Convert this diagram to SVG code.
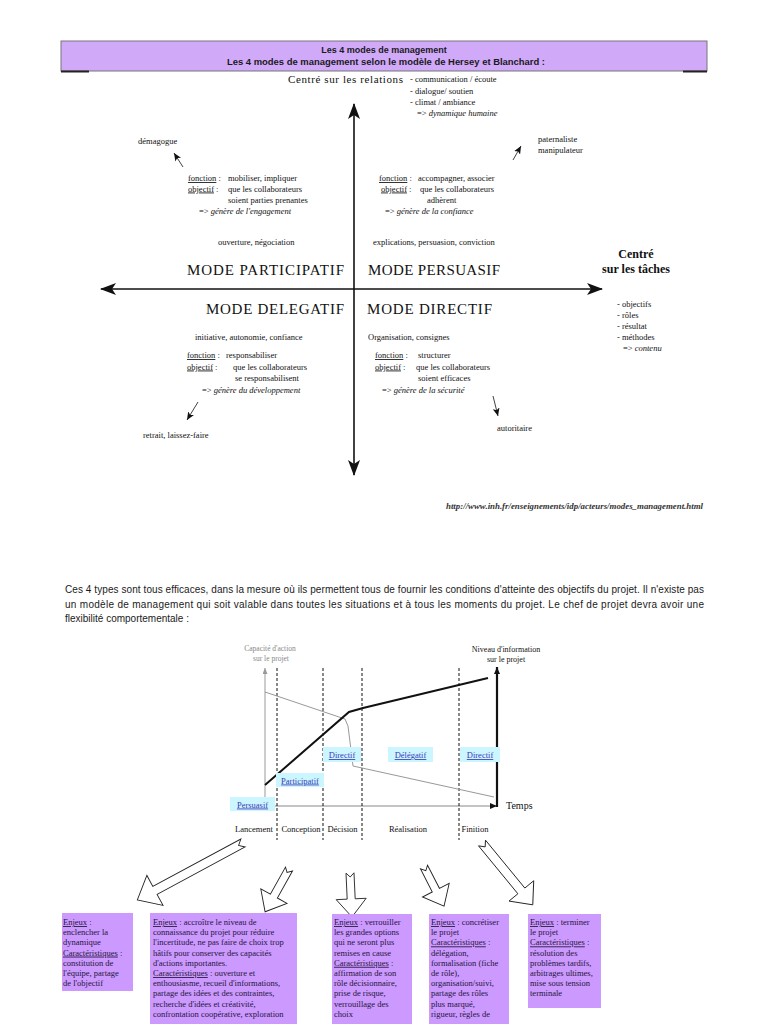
<svg xmlns="http://www.w3.org/2000/svg" width="768" height="1024" viewBox="0 0 768 1024">
<defs>
<style>
.sf{font-family:"Liberation Serif","Times New Roman",serif;fill:#111}
.q{font-size:8.5px}
.it{font-style:italic}
.ul{text-decoration:underline}
.mode{font-size:15px}
.bx{fill:#cc99ff}
.bt{font-family:"Liberation Serif","Times New Roman",serif;font-size:8.5px;fill:#24163a}
.lb{fill:#ccf6ff}
.lt{font-family:"Liberation Serif","Times New Roman",serif;font-size:8.5px;fill:#3a3ab8;text-decoration:underline;text-anchor:middle}
.ph{font-family:"Liberation Serif","Times New Roman",serif;font-size:8.5px;fill:#111}
.dash{stroke:#111;stroke-width:1;stroke-dasharray:3 2}
.hollow{fill:#fff;stroke:#222;stroke-width:0.9}
.para{font-family:"Liberation Sans",Arial,sans-serif;font-size:10px;fill:#1a1a1a}
</style>
<marker id="big" markerUnits="userSpaceOnUse" markerWidth="16" markerHeight="12" viewBox="0 0 16 12" refX="15" refY="6" orient="auto-start-reverse"><path d="M0,0 L16,6 L0,12 L4,6 Z" fill="#111"/></marker>
<marker id="sm" markerUnits="userSpaceOnUse" markerWidth="8" markerHeight="7" viewBox="0 0 8 7" refX="8" refY="3.5" orient="auto"><path d="M0,0 L8,3.5 L0,7 L2,3.5 Z" fill="#111"/></marker>
<marker id="tiny" markerUnits="userSpaceOnUse" markerWidth="7" markerHeight="6" viewBox="0 0 7 6" refX="7" refY="3" orient="auto"><path d="M0,0 L7,3 L0,6 Z" fill="#111"/></marker>
<marker id="tinyg" markerUnits="userSpaceOnUse" markerWidth="6" markerHeight="5" viewBox="0 0 6 5" refX="6" refY="2.5" orient="auto"><path d="M0,0 L6,2.5 L0,5 Z" fill="#999"/></marker>
</defs>
<rect width="768" height="1024" fill="#fff"/>

<g id="header">
<rect x="61" y="41" width="646" height="30" fill="#d0a9f9" stroke="#777" stroke-width="1"/>
<line x1="61" y1="71.5" x2="89" y2="71.5" stroke="#222" stroke-width="2"/>
<line x1="683" y1="71.5" x2="707" y2="71.5" stroke="#222" stroke-width="2"/>
<text x="384" y="52.5" text-anchor="middle" font-family="Liberation Sans, Arial, sans-serif" font-size="9" font-weight="bold" fill="#1a1a1a">Les 4 modes de management</text>
<text x="386" y="65" text-anchor="middle" font-family="Liberation Sans, Arial, sans-serif" font-size="9" font-weight="bold" fill="#1a1a1a" textLength="318" lengthAdjust="spacingAndGlyphs">Les 4 modes de management selon le modèle de Hersey et Blanchard :</text>
</g>

<g id="connectors">
<line x1="354" y1="104" x2="354" y2="475" stroke="#111" stroke-width="1.6" marker-start="url(#big)" marker-end="url(#big)"/>
<line x1="101" y1="289" x2="602" y2="289" stroke="#111" stroke-width="1.6" marker-start="url(#big)" marker-end="url(#big)"/>
<line x1="183" y1="167" x2="174" y2="153" stroke="#111" stroke-width="0.8" marker-end="url(#sm)"/>
<line x1="513" y1="160" x2="521" y2="146" stroke="#111" stroke-width="0.8" marker-end="url(#sm)"/>
<line x1="198" y1="402" x2="187" y2="420" stroke="#111" stroke-width="0.8" marker-end="url(#sm)"/>
<line x1="493" y1="396" x2="498" y2="416" stroke="#111" stroke-width="0.8" marker-end="url(#sm)"/>
</g>

<g id="axis-relations" class="sf">
<text x="288" y="83" font-size="11" textLength="115" lengthAdjust="spacing">Centré sur les relations</text>
<text x="410" y="82" class="q">- communication / écoute</text>
<text x="410" y="94" class="q">- dialogue/ soutien</text>
<text x="410" y="105" class="q">- climat / ambiance</text>
<text x="417" y="116" class="q">=&gt; <tspan class="it">dynamique humaine</tspan></text>
</g>

<g id="axis-taches" class="sf">
<text x="636" y="258" text-anchor="middle" font-size="12" font-weight="bold">Centré</text>
<text x="636" y="273" text-anchor="middle" font-size="12" font-weight="bold">sur les tâches</text>
<text x="617" y="307" class="q">- objectifs</text>
<text x="617" y="318" class="q">- rôles</text>
<text x="617" y="329" class="q">- résultat</text>
<text x="617" y="340" class="q">- méthodes</text>
<text x="623" y="351" class="q">=&gt; <tspan class="it">contenu</tspan></text>
</g>

<g id="mode-participatif" class="sf">
<text x="138" y="144" class="q">démagogue</text>
<text x="188" y="181" class="q"><tspan class="ul">fonction</tspan> : <tspan x="228">mobiliser, impliquer</tspan></text>
<text x="188" y="191.5" class="q"><tspan class="ul">objectif</tspan> : <tspan x="228">que les collaborateurs</tspan></text>
<text x="228" y="203" class="q">soient parties prenantes</text>
<text x="199" y="213.5" class="q">=&gt; <tspan class="it">génère de l'engagement</tspan></text>
<text x="218" y="245" class="q">ouverture, négociation</text>
<text x="187" y="275" class="mode" textLength="157" lengthAdjust="spacing">MODE  PARTICIPATIF</text>
</g>

<g id="mode-persuasif" class="sf">
<text x="538" y="142" class="q">paternaliste</text>
<text x="538" y="153" class="q">manipulateur</text>
<text x="379" y="181" class="q"><tspan class="ul">fonction</tspan> : <tspan x="418">accompagner, associer</tspan></text>
<text x="381" y="191.5" class="q"><tspan class="ul">objectif</tspan> : <tspan x="420">que les collaborateurs</tspan></text>
<text x="427" y="203" class="q">adhèrent</text>
<text x="385" y="213.5" class="q">=&gt; <tspan class="it">génère de la confiance</tspan></text>
<text x="373" y="245" class="q">explications, persuasion, conviction</text>
<text x="368" y="275" class="mode" textLength="132" lengthAdjust="spacing">MODE  PERSUASIF</text>
</g>

<g id="mode-delegatif" class="sf">
<text x="206" y="314" class="mode" textLength="138" lengthAdjust="spacing">MODE  DELEGATIF</text>
<text x="195" y="340" class="q">initiative, autonomie, confiance</text>
<text x="187" y="358" class="q"><tspan class="ul">fonction</tspan> : <tspan x="226">responsabiliser</tspan></text>
<text x="187" y="369.5" class="q"><tspan class="ul">objectif</tspan> : <tspan x="233">que les collaborateurs</tspan></text>
<text x="235" y="381" class="q">se responsabilisent</text>
<text x="202" y="392.5" class="q">=&gt; <tspan class="it">génère du développement</tspan></text>
<text x="143" y="438" class="q">retrait, laissez-faire</text>
</g>

<g id="mode-directif" class="sf">
<text x="367" y="314" class="mode" textLength="125" lengthAdjust="spacing">MODE  DIRECTIF</text>
<text x="368" y="340" class="q">Organisation, consignes</text>
<text x="375" y="358" class="q"><tspan class="ul">fonction</tspan> : <tspan x="418">structurer</tspan></text>
<text x="375" y="369.5" class="q"><tspan class="ul">objectif</tspan> : <tspan x="416">que les collaborateurs</tspan></text>
<text x="418" y="381" class="q">soient efficaces</text>
<text x="382" y="392.5" class="q">=&gt; <tspan class="it">génère de la sécurité</tspan></text>
<text x="497" y="431" class="q">autoritaire</text>
</g>

<g id="source">
<text x="703" y="509" text-anchor="end" font-family="Liberation Serif, serif" font-size="8" font-style="italic" font-weight="bold" fill="#333" textLength="257" lengthAdjust="spacingAndGlyphs">http://www.inh.fr/enseignements/idp/acteurs/modes_management.html</text>
</g>

<g id="paragraph" class="para">
<text x="65" y="593" textLength="639" lengthAdjust="spacing">Ces 4 types sont tous efficaces, dans la mesure où ils permettent tous de fournir les conditions d'atteinte des objectifs du projet. Il n'existe pas</text>
<text x="65" y="608" textLength="639" lengthAdjust="spacing">un modèle de management qui soit valable dans toutes les situations et à tous les moments du projet. Le chef de projet devra avoir une</text>
<text x="65" y="622">flexibilité comportementale :</text>
</g>

<g id="chart">
<text x="270" y="651" text-anchor="middle" font-family="Liberation Serif, serif" font-size="7.5" fill="#888">Capacité d'action</text>
<text x="271" y="661" text-anchor="middle" font-family="Liberation Serif, serif" font-size="7.5" fill="#888">sur le projet</text>
<text x="506" y="652" text-anchor="middle" font-family="Liberation Serif, serif" font-size="8" fill="#111">Niveau d'information</text>
<text x="506" y="662" text-anchor="middle" font-family="Liberation Serif, serif" font-size="8" fill="#111">sur le projet</text>
<text x="506" y="809" font-family="Liberation Serif, serif" font-size="10" fill="#111">Temps</text>
<line x1="265" y1="807" x2="265" y2="668" stroke="#999" stroke-width="1" marker-end="url(#tinyg)"/>
<line x1="265" y1="806" x2="497" y2="806" stroke="#888" stroke-width="1" marker-end="url(#tiny)"/>
<line x1="497" y1="807" x2="497" y2="667" stroke="#111" stroke-width="2.2" marker-end="url(#tiny)"/>
<line x1="277" y1="668" x2="277" y2="840" class="dash"/>
<line x1="323" y1="668" x2="323" y2="840" class="dash"/>
<line x1="362" y1="668" x2="362" y2="840" class="dash"/>
<line x1="459" y1="668" x2="459" y2="840" class="dash"/>
<polyline points="265,692 345,719 348,726 353,766 494,797" fill="none" stroke="#999" stroke-width="1"/>
<polyline points="265,785 349,712 363,708 488,678" fill="none" stroke="#111" stroke-width="2"/>
<g id="lbl-persuasif"><rect x="230" y="797" width="45" height="14" class="lb"/><text x="252.5" y="807.5" class="lt">Persuasif</text></g>
<g id="lbl-participatif"><rect x="276" y="773" width="48" height="14" class="lb"/><text x="300" y="783.5" class="lt">Participatif</text></g>
<g id="lbl-directif1"><rect x="323" y="747" width="38" height="15" class="lb"/><text x="342" y="758" class="lt">Directif</text></g>
<g id="lbl-delegatif"><rect x="388" y="747" width="45" height="15" class="lb"/><text x="410.5" y="758" class="lt">Délégatif</text></g>
<g id="lbl-directif2"><rect x="460" y="747" width="40" height="15" class="lb"/><text x="480" y="758" class="lt">Directif</text></g>
<text x="254" y="832" text-anchor="middle" class="ph">Lancement</text>
<text x="301" y="832" text-anchor="middle" class="ph">Conception</text>
<text x="342.5" y="832" text-anchor="middle" class="ph">Décision</text>
<text x="408" y="832" text-anchor="middle" class="ph">Réalisation</text>
<text x="475" y="832" text-anchor="middle" class="ph">Finition</text>
</g>

<g id="phase-arrows">
<path class="hollow" transform="translate(243,843) rotate(151.7)" d="M0,-4.5 L100,-4.5 L100,-17 L120,0 L100,17 L100,4.5 L0,4.5 L5,0 Z"/>
<path class="hollow" transform="translate(289,869) rotate(119.2)" d="M0,-4 L31,-4 L31,-15 L49,0 L31,15 L31,4 L0,4 L4,0 Z"/>
<path class="hollow" transform="translate(350,873) rotate(87.4)" d="M0,-4 L26,-4 L26,-15 L44,0 L26,15 L26,4 L0,4 L4,0 Z"/>
<path class="hollow" transform="translate(424,867) rotate(62.9)" d="M0,-4 L26,-4 L26,-15 L44,0 L26,15 L26,4 L0,4 L4,0 Z"/>
<path class="hollow" transform="translate(482,843) rotate(50.6)" d="M0,-4.5 L62,-4.5 L62,-16 L80,0 L62,16 L62,4.5 L0,4.5 L5,0 Z"/>
</g>

<g id="box-lancement">
<rect x="62" y="913" width="71" height="78" class="bx"/>
<text class="bt" x="63" y="925"><tspan class="ul">Enjeux</tspan> :</text>
<text class="bt" x="63" y="935.2">enclencher la</text>
<text class="bt" x="63" y="945.4">dynamique</text>
<text class="bt" x="63" y="955.6"><tspan class="ul">Caractéristiques</tspan> :</text>
<text class="bt" x="63" y="965.8">constitution de</text>
<text class="bt" x="63" y="976">l'équipe, partage</text>
<text class="bt" x="63" y="986.2">de l'objectif</text>
</g>

<g id="box-conception">
<rect x="150" y="913" width="147" height="111" class="bx"/>
<text class="bt" x="153" y="925"><tspan class="ul">Enjeux</tspan> : accroître le niveau de</text>
<text class="bt" x="153" y="935.2">connaissance du projet pour réduire</text>
<text class="bt" x="153" y="945.4">l'incertitude, ne pas faire de choix trop</text>
<text class="bt" x="153" y="955.6">hâtifs pour conserver des capacités</text>
<text class="bt" x="153" y="965.8">d'actions importantes.</text>
<text class="bt" x="153" y="976"><tspan class="ul">Caractéristiques</tspan> : ouverture et</text>
<text class="bt" x="153" y="986.2">enthousiasme, recueil d'informations,</text>
<text class="bt" x="153" y="996.4">partage des idées et des contraintes,</text>
<text class="bt" x="153" y="1006.6">recherche d'idées et créativité,</text>
<text class="bt" x="153" y="1016.8">confrontation coopérative, exploration</text>
</g>

<g id="box-decision">
<rect x="332" y="914" width="80" height="110" class="bx"/>
<text class="bt" x="334" y="925"><tspan class="ul">Enjeux</tspan> : verrouiller</text>
<text class="bt" x="334" y="935.2">les grandes options</text>
<text class="bt" x="334" y="945.4">qui ne seront plus</text>
<text class="bt" x="334" y="955.6">remises en cause</text>
<text class="bt" x="334" y="965.8"><tspan class="ul">Caractéristiques</tspan> :</text>
<text class="bt" x="334" y="976">affirmation de son</text>
<text class="bt" x="334" y="986.2">rôle décisionnaire,</text>
<text class="bt" x="334" y="996.4">prise de risque,</text>
<text class="bt" x="334" y="1006.6">verrouillage des</text>
<text class="bt" x="334" y="1016.8">choix</text>
</g>

<g id="box-realisation">
<rect x="429" y="914" width="80" height="110" class="bx"/>
<text class="bt" x="431" y="925"><tspan class="ul">Enjeux</tspan> : concrétiser</text>
<text class="bt" x="431" y="935.2">le projet</text>
<text class="bt" x="431" y="945.4"><tspan class="ul">Caractéristiques</tspan> :</text>
<text class="bt" x="431" y="955.6">délégation,</text>
<text class="bt" x="431" y="965.8">formalisation (fiche</text>
<text class="bt" x="431" y="976">de rôle),</text>
<text class="bt" x="431" y="986.2">organisation/suivi,</text>
<text class="bt" x="431" y="996.4">partage des rôles</text>
<text class="bt" x="431" y="1006.6">plus marqué,</text>
<text class="bt" x="431" y="1016.8">rigueur, règles de</text>
</g>

<g id="box-finition">
<rect x="528" y="914" width="73" height="94" class="bx"/>
<text class="bt" x="530" y="925"><tspan class="ul">Enjeux</tspan> : terminer</text>
<text class="bt" x="530" y="935.2">le projet</text>
<text class="bt" x="530" y="945.4"><tspan class="ul">Caractéristiques</tspan> :</text>
<text class="bt" x="530" y="955.6">résolution des</text>
<text class="bt" x="530" y="965.8">problèmes tardifs,</text>
<text class="bt" x="530" y="976">arbitrages ultimes,</text>
<text class="bt" x="530" y="986.2">mise sous tension</text>
<text class="bt" x="530" y="996.4">terminale</text>
</g>
</svg>
